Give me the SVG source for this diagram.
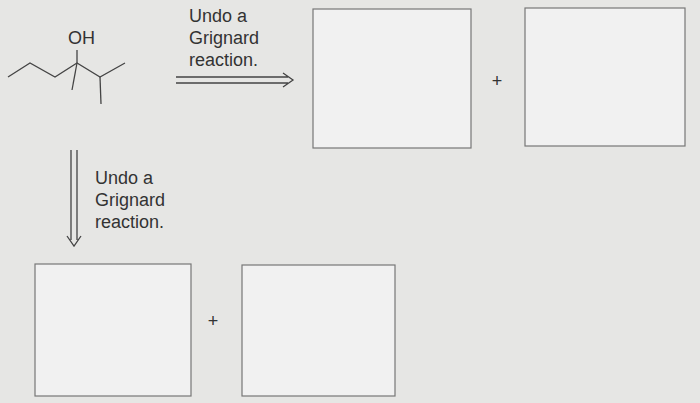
<svg xmlns="http://www.w3.org/2000/svg" width="700" height="403" viewBox="0 0 700 403">
<style>
.t{font-family:"Liberation Sans",Arial,sans-serif;font-size:18px;fill:#333}
.b{fill:#f1f1f1;stroke:#777;stroke-width:1.2}
.l{fill:none;stroke:#444;stroke-width:1.3}
</style>
<rect width="700" height="403" fill="#e6e6e4"/>
<g id="molecule">
<text class="t" x="68" y="44" font-size="15">OH</text>
<polyline class="l" points="8,77 30,63 55,77 77,63 100,77 125,63"/>
<line class="l" x1="77" y1="63" x2="77" y2="50"/>
<line class="l" x1="77" y1="63" x2="72" y2="90"/>
<line class="l" x1="100" y1="77" x2="101" y2="104"/>
</g>
<g id="connectors">
<path class="l" d="M176,77 H288 M176,83 H288 M283,73 L293,80 L283,87"/>
<path class="l" d="M71,150 V240 M77,150 V240 M67,236 L74,246 L81,236"/>
</g>
<g id="labels">
<text class="t" x="189" y="22">Undo a</text>
<text class="t" x="189" y="44">Grignard</text>
<text class="t" x="189" y="66">reaction.</text>
<text class="t" x="95" y="184">Undo a</text>
<text class="t" x="95" y="206">Grignard</text>
<text class="t" x="95" y="228">reaction.</text>
</g>
<g id="box1"><rect class="b" x="313" y="9" width="158" height="139"/></g>
<g id="box2"><rect class="b" x="525" y="8" width="160" height="138"/></g>
<g id="box3"><rect class="b" x="35" y="264" width="156" height="132"/></g>
<g id="box4"><rect class="b" x="242" y="265" width="153" height="131"/></g>
<text class="t" x="497" y="87" font-size="12" text-anchor="middle">+</text>
<text class="t" x="213" y="327" font-size="12" text-anchor="middle">+</text>
</svg>
